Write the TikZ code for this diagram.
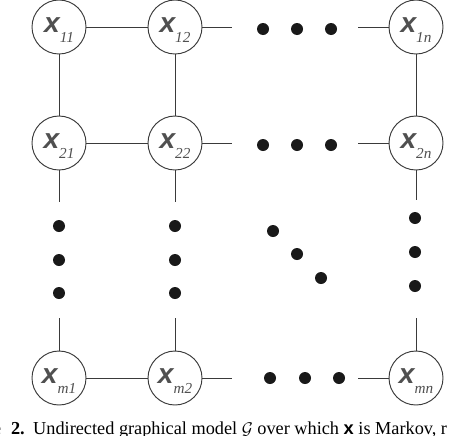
\documentclass[tikz,border=0pt]{standalone}
\usepackage{fontspec}
\setmainfont{Liberation Serif}
\setsansfont{Liberation Sans}
\usetikzlibrary{positioning}

\definecolor{vargray}{HTML}{505050}
\definecolor{edgegray}{HTML}{3A3A3A}
\newcommand{\xvar}[1]{{\sffamily\bfseries\itshape\fontsize{24}{24}\selectfont x}\raisebox{-8.5pt}{\itshape\fontsize{13}{13}\selectfont #1}}

\begin{document}
\begin{tikzpicture}[
    x=0.3mm, y=-0.3mm,
    var/.style={circle, draw=edgegray, line width=0.8pt, fill=white, minimum size=16.2mm, inner sep=0pt, text=vargray, text height=18.7pt, text depth=8.5pt},
    dot/.style={circle, fill=black!90, minimum size=3.6mm, inner sep=0pt},
    link/.style={draw=edgegray, line width=0.8pt},
    captext/.style={inner sep=0pt, font=\fontsize{15.6}{18}\selectfont}
]
    \clip (0,0) rectangle (474,435);

    % First row
    \node[var] (x11) at (59,27) {\xvar{11}};
    \node[var] (x12) at (175,27) {\xvar{12}};
    \node[var] (x1n) at (416,27) {\xvar{1n}};

    % Second row
    \node[var] (x21) at (59,143) {\xvar{21}};
    \node[var] (x22) at (175,143) {\xvar{22}};
    \node[var] (x2n) at (416,143) {\xvar{2n}};

    % Last row
    \node[var] (xm1) at (59,378) {\xvar{m1}};
    \node[var] (xm2) at (175,378) {\xvar{m2}};
    \node[var] (xmn) at (416,378) {\xvar{mn}};

    % Loose ends of the edges
    \coordinate (x12r) at (232,27);
    \coordinate (x1nl) at (358,27);
    \coordinate (x22r) at (232,143);
    \coordinate (x2nl) at (358,143);
    \coordinate (x21d) at (59,202);
    \coordinate (x22d) at (175,202);
    \coordinate (x2nd) at (416,200);
    \coordinate (xm1u) at (59,318);
    \coordinate (xm2u) at (175,318);
    \coordinate (xmnu) at (416,318);
    \coordinate (xm2r) at (232,378);
    \coordinate (xmnl) at (358,378);

    % Edges
    \draw[link] (x11) -- (x12);
    \draw[link] (x21) -- (x22);
    \draw[link] (xm1) -- (xm2);
    \draw[link] (x11) -- (x21);
    \draw[link] (x12) -- (x22);
    \draw[link] (x1n) -- (x2n);
    \draw[link] (x12) -- (x12r);
    \draw[link] (x22) -- (x22r);
    \draw[link] (xm2) -- (xm2r);
    \draw[link] (x1nl) -- (x1n);
    \draw[link] (x2nl) -- (x2n);
    \draw[link] (xmnl) -- (xmn);
    \draw[link] (x21) -- (x21d);
    \draw[link] (x22) -- (x22d);
    \draw[link] (x2n) -- (x2nd);
    \draw[link] (xm1u) -- (xm1);
    \draw[link] (xm2u) -- (xm2);
    \draw[link] (xmnu) -- (xmn);

    % Dots along the rows
    \node[dot] (r1a) at (263,29) {}; \node[dot] (r1b) at (297,29) {}; \node[dot] (r1c) at (331,29) {};
    \node[dot] (r2a) at (263,145) {}; \node[dot] (r2b) at (297,145) {}; \node[dot] (r2c) at (331,145) {};
    \node[dot] (rma) at (270,378) {}; \node[dot] (rmb) at (305,378) {}; \node[dot] (rmc) at (339,378) {};

    % Dots along the columns
    \node[dot] (c1a) at (59,226) {}; \node[dot] (c1b) at (59,260) {}; \node[dot] (c1c) at (59,293) {};
    \node[dot] (c2a) at (175,226) {}; \node[dot] (c2b) at (175,260) {}; \node[dot] (c2c) at (175,293) {};
    \node[dot] (cna) at (415,218) {}; \node[dot] (cnb) at (415,252) {}; \node[dot] (cnc) at (415,286) {};

    % Diagonal dots
    \node[dot] (dga) at (273,231) {}; \node[dot] (dgb) at (297,254) {}; \node[dot] (dgc) at (321,278) {};

    % Caption
    \node[captext, anchor=base east] (figlabel) at (25,434) {\textbf{Figure\hspace{8.5pt}2.}};
    \node[captext, anchor=base west] (figtext) at (33,434) {Undirected graphical model $\mathcal{G}$ over which {\sffamily\bfseries x} is Markov, r};
\end{tikzpicture}
\end{document}
